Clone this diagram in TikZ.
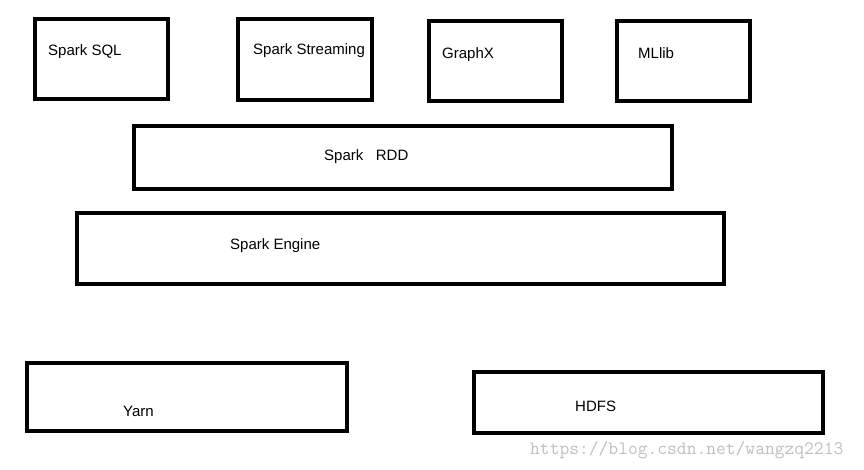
\documentclass[tikz,border=0pt]{standalone}
\usepackage{fontspec}
\setmainfont{Liberation Sans}
\tikzset{
  box/.style   = {shape=rectangle, draw, line width=4pt, inner sep=0pt},
  lbl/.style   = {anchor=west, inner sep=0pt, font=\fontsize{15}{17}\selectfont},
  wmark/.style = {anchor=west, inner sep=0pt, text=black!25,
                  font=\ttfamily\fontsize{19}{21}\selectfont}
}
\begin{document}
\begin{tikzpicture}[x=1pt, y=-1pt]
  \useasboundingbox (0,0) rectangle (864,469);
  % top row
  \node [box, minimum width=133pt, minimum height=80pt] (sql)  at (101.5,59) {};
  \node [box, minimum width=134pt, minimum height=81pt] (strm) at (305,59.5) {};
  \node [box, minimum width=133pt, minimum height=80pt] (grx)  at (495.5,61) {};
  \node [box, minimum width=133pt, minimum height=80pt] (ml)   at (683.5,61) {};
  \node [lbl] at (48,52)  {Spark SQL};
  \node [lbl] at (253,51) {Spark Streaming};
  \node [lbl] at (442,55) {GraphX};
  \node [lbl] at (638,53) {MLlib};
  % core layers
  \node [box, minimum width=538pt, minimum height=63pt] (rdd) at (403,157.5) {};
  \node [box, minimum width=647pt, minimum height=71pt] (eng) at (400.5,248.5) {};
  \node [lbl] at (324,157) {Spark\ \ \ RDD};
  \node [lbl] at (230,246) {Spark Engine};
  % bottom row
  \node [box, minimum width=320pt, minimum height=68pt] (yarn) at (187,397) {};
  \node [box, minimum width=349pt, minimum height=61pt] (hdfs) at (648.5,402.5) {};
  \node [lbl] at (123,411) {Yarn};
  \node [lbl] at (575,406) {HDFS};
  \node [wmark] at (530,450) {https://blog.csdn.net/wangzq2213};
\end{tikzpicture}
\end{document}
